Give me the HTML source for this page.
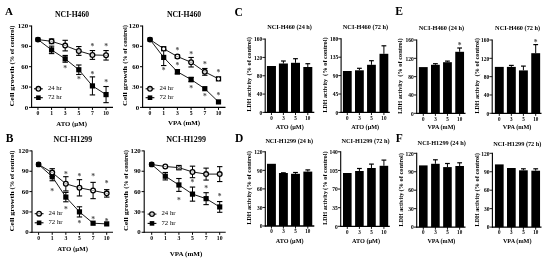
<!DOCTYPE html>
<html><head><meta charset="utf-8"><title>Figure</title>
<style>
html,body{margin:0;padding:0;background:#fff;}
body{width:550px;height:262px;overflow:hidden;}
svg{display:block;}
text{font-family:'Liberation Serif', 'DejaVu Serif', serif;}
</style></head><body>
<svg width="550" height="262" viewBox="0 0 550 262">
<rect width="550" height="262" fill="#fff"/>
<text x="5.00" y="15.30" font-size="11" font-weight="bold" text-anchor="start" fill="#000" >A</text>
<text x="5.70" y="141.70" font-size="11.5" font-weight="bold" text-anchor="start" fill="#000" >B</text>
<text x="234.60" y="15.60" font-size="11.6" font-weight="bold" text-anchor="start" fill="#000" >C</text>
<text x="234.90" y="141.70" font-size="11.5" font-weight="bold" text-anchor="start" fill="#000" >D</text>
<text x="395.20" y="15.10" font-size="11.6" font-weight="bold" text-anchor="start" fill="#000" >E</text>
<text x="395.80" y="142.00" font-size="11.5" font-weight="bold" text-anchor="start" fill="#000" >F</text>
<line x1="31.60" y1="25.50" x2="31.60" y2="107.90" stroke="#000" stroke-width="1.1"/>
<line x1="31.10" y1="107.40" x2="113.00" y2="107.40" stroke="#000" stroke-width="1.1"/>
<line x1="29.00" y1="107.40" x2="31.60" y2="107.40" stroke="#000" stroke-width="1"/>
<text x="28.20" y="109.50" font-size="6.3" font-weight="bold" text-anchor="end" fill="#000" textLength="3.45" lengthAdjust="spacingAndGlyphs" >0</text>
<line x1="29.00" y1="87.05" x2="31.60" y2="87.05" stroke="#000" stroke-width="1"/>
<text x="28.20" y="89.15" font-size="6.3" font-weight="bold" text-anchor="end" fill="#000" textLength="6.9" lengthAdjust="spacingAndGlyphs" >30</text>
<line x1="29.00" y1="66.70" x2="31.60" y2="66.70" stroke="#000" stroke-width="1"/>
<text x="28.20" y="68.80" font-size="6.3" font-weight="bold" text-anchor="end" fill="#000" textLength="6.9" lengthAdjust="spacingAndGlyphs" >60</text>
<line x1="29.00" y1="46.35" x2="31.60" y2="46.35" stroke="#000" stroke-width="1"/>
<text x="28.20" y="48.45" font-size="6.3" font-weight="bold" text-anchor="end" fill="#000" textLength="6.9" lengthAdjust="spacingAndGlyphs" >90</text>
<line x1="29.00" y1="26.00" x2="31.60" y2="26.00" stroke="#000" stroke-width="1"/>
<text x="28.20" y="28.10" font-size="6.3" font-weight="bold" text-anchor="end" fill="#000" textLength="10.350000000000001" lengthAdjust="spacingAndGlyphs" >120</text>
<line x1="37.95" y1="107.40" x2="37.95" y2="109.90" stroke="#000" stroke-width="1"/>
<text x="37.95" y="115.30" font-size="5.7" font-weight="bold" text-anchor="middle" fill="#000" >0</text>
<line x1="51.57" y1="107.40" x2="51.57" y2="109.90" stroke="#000" stroke-width="1"/>
<text x="51.57" y="115.30" font-size="5.7" font-weight="bold" text-anchor="middle" fill="#000" >1</text>
<line x1="65.19" y1="107.40" x2="65.19" y2="109.90" stroke="#000" stroke-width="1"/>
<text x="65.19" y="115.30" font-size="5.7" font-weight="bold" text-anchor="middle" fill="#000" >3</text>
<line x1="78.81" y1="107.40" x2="78.81" y2="109.90" stroke="#000" stroke-width="1"/>
<text x="78.81" y="115.30" font-size="5.7" font-weight="bold" text-anchor="middle" fill="#000" >5</text>
<line x1="92.43" y1="107.40" x2="92.43" y2="109.90" stroke="#000" stroke-width="1"/>
<text x="92.43" y="115.30" font-size="5.7" font-weight="bold" text-anchor="middle" fill="#000" >7</text>
<line x1="106.05" y1="107.40" x2="106.05" y2="109.90" stroke="#000" stroke-width="1"/>
<text x="106.05" y="115.30" font-size="5.7" font-weight="bold" text-anchor="middle" fill="#000" >10</text>
<text x="55.10" y="16.60" font-size="7.8" font-weight="bold" text-anchor="start" fill="#000" textLength="34.0" lengthAdjust="spacingAndGlyphs" >NCI-H460</text>
<text x="56.30" y="126.00" font-size="7.0" font-weight="bold" text-anchor="start" fill="#000" textLength="30.6" lengthAdjust="spacingAndGlyphs" >ATO (µM)</text>
<text x="0" y="0" font-size="6.8" font-weight="bold" text-anchor="start" textLength="40.0" lengthAdjust="spacingAndGlyphs" transform="translate(11.80,106.40) rotate(-90)" dominant-baseline="central">Cell growth</text>
<text x="0" y="0" font-size="6.8" font-weight="bold" text-anchor="end" textLength="38.7" lengthAdjust="spacingAndGlyphs" transform="translate(11.80,25.70) rotate(-90)" dominant-baseline="central">(% of control)</text>
<polyline fill="none" stroke="#000" stroke-width="0.9" points="37.95,39.57 51.57,41.33 65.19,45.60 78.81,50.96 92.43,54.96 106.05,55.30"/>
<polyline fill="none" stroke="#000" stroke-width="0.9" points="37.95,39.57 51.57,49.88 65.19,58.83 78.81,69.75 92.43,85.90 106.05,94.58"/>
<line x1="51.57" y1="38.96" x2="51.57" y2="43.70" stroke="#000" stroke-width="1"/>
<line x1="48.87" y1="38.96" x2="54.27" y2="38.96" stroke="#000" stroke-width="1.1"/>
<line x1="48.87" y1="43.70" x2="54.27" y2="43.70" stroke="#000" stroke-width="1.1"/>
<line x1="65.19" y1="40.31" x2="65.19" y2="50.89" stroke="#000" stroke-width="1"/>
<line x1="62.49" y1="40.31" x2="67.89" y2="40.31" stroke="#000" stroke-width="1.1"/>
<line x1="62.49" y1="50.89" x2="67.89" y2="50.89" stroke="#000" stroke-width="1.1"/>
<line x1="78.81" y1="46.55" x2="78.81" y2="55.37" stroke="#000" stroke-width="1"/>
<line x1="76.11" y1="46.55" x2="81.51" y2="46.55" stroke="#000" stroke-width="1.1"/>
<line x1="76.11" y1="55.37" x2="81.51" y2="55.37" stroke="#000" stroke-width="1.1"/>
<line x1="92.43" y1="50.56" x2="92.43" y2="59.37" stroke="#000" stroke-width="1"/>
<line x1="89.73" y1="50.56" x2="95.13" y2="50.56" stroke="#000" stroke-width="1.1"/>
<line x1="89.73" y1="59.37" x2="95.13" y2="59.37" stroke="#000" stroke-width="1.1"/>
<line x1="106.05" y1="50.56" x2="106.05" y2="60.05" stroke="#000" stroke-width="1"/>
<line x1="103.35" y1="50.56" x2="108.75" y2="50.56" stroke="#000" stroke-width="1.1"/>
<line x1="103.35" y1="60.05" x2="108.75" y2="60.05" stroke="#000" stroke-width="1.1"/>
<line x1="51.57" y1="46.15" x2="51.57" y2="53.61" stroke="#000" stroke-width="1"/>
<line x1="48.87" y1="46.15" x2="54.27" y2="46.15" stroke="#000" stroke-width="1.1"/>
<line x1="48.87" y1="53.61" x2="54.27" y2="53.61" stroke="#000" stroke-width="1.1"/>
<line x1="65.19" y1="55.44" x2="65.19" y2="62.22" stroke="#000" stroke-width="1"/>
<line x1="62.49" y1="55.44" x2="67.89" y2="55.44" stroke="#000" stroke-width="1.1"/>
<line x1="62.49" y1="62.22" x2="67.89" y2="62.22" stroke="#000" stroke-width="1.1"/>
<line x1="78.81" y1="65.00" x2="78.81" y2="74.50" stroke="#000" stroke-width="1"/>
<line x1="76.11" y1="65.00" x2="81.51" y2="65.00" stroke="#000" stroke-width="1.1"/>
<line x1="76.11" y1="74.50" x2="81.51" y2="74.50" stroke="#000" stroke-width="1.1"/>
<line x1="92.43" y1="76.88" x2="92.43" y2="94.92" stroke="#000" stroke-width="1"/>
<line x1="89.73" y1="76.88" x2="95.13" y2="76.88" stroke="#000" stroke-width="1.1"/>
<line x1="89.73" y1="94.92" x2="95.13" y2="94.92" stroke="#000" stroke-width="1.1"/>
<line x1="106.05" y1="86.51" x2="106.05" y2="102.65" stroke="#000" stroke-width="1"/>
<line x1="103.35" y1="86.51" x2="108.75" y2="86.51" stroke="#000" stroke-width="1.1"/>
<line x1="103.35" y1="102.65" x2="108.75" y2="102.65" stroke="#000" stroke-width="1.1"/>
<rect x="48.97" y="47.28" width="5.20" height="5.20" fill="#000"/>
<rect x="62.59" y="56.23" width="5.20" height="5.20" fill="#000"/>
<rect x="76.21" y="67.15" width="5.20" height="5.20" fill="#000"/>
<rect x="89.83" y="83.30" width="5.20" height="5.20" fill="#000"/>
<rect x="103.45" y="91.98" width="5.20" height="5.20" fill="#000"/>
<rect x="35.55" y="37.17" width="4.80" height="4.80" fill="#000"/>
<circle cx="37.95" cy="39.57" r="2.85" fill="#000" stroke="#000" stroke-width="0"/>
<circle cx="51.57" cy="41.33" r="2.35" fill="#fff" stroke="#000" stroke-width="1.3"/>
<line x1="50.37" y1="41.33" x2="52.77" y2="41.33" stroke="#444" stroke-width="0.5"/>
<circle cx="65.19" cy="45.60" r="2.35" fill="#fff" stroke="#000" stroke-width="1.3"/>
<line x1="63.99" y1="45.60" x2="66.39" y2="45.60" stroke="#444" stroke-width="0.5"/>
<circle cx="78.81" cy="50.96" r="2.35" fill="#fff" stroke="#000" stroke-width="1.3"/>
<line x1="77.61" y1="50.96" x2="80.01" y2="50.96" stroke="#444" stroke-width="0.5"/>
<circle cx="92.43" cy="54.96" r="2.35" fill="#fff" stroke="#000" stroke-width="1.3"/>
<line x1="91.23" y1="54.96" x2="93.63" y2="54.96" stroke="#444" stroke-width="0.5"/>
<circle cx="106.05" cy="55.30" r="2.35" fill="#fff" stroke="#000" stroke-width="1.3"/>
<line x1="104.85" y1="55.30" x2="107.25" y2="55.30" stroke="#444" stroke-width="0.5"/>
<text x="92.43" y="49.38" font-size="7.6" font-weight="bold" text-anchor="middle" fill="#4a4a4a" >*</text>
<text x="106.05" y="49.22" font-size="7.6" font-weight="bold" text-anchor="middle" fill="#4a4a4a" >*</text>
<text x="65.19" y="70.54" font-size="7.6" font-weight="bold" text-anchor="middle" fill="#4a4a4a" >*</text>
<text x="78.81" y="81.96" font-size="7.6" font-weight="bold" text-anchor="middle" fill="#4a4a4a" >*</text>
<text x="92.43" y="77.21" font-size="7.6" font-weight="bold" text-anchor="middle" fill="#4a4a4a" >*</text>
<text x="106.05" y="84.69" font-size="7.6" font-weight="bold" text-anchor="middle" fill="#4a4a4a" >*</text>
<line x1="34.00" y1="88.80" x2="42.80" y2="88.80" stroke="#000" stroke-width="1.1"/>
<circle cx="38.40" cy="88.80" r="2.3" fill="#fff" stroke="#000" stroke-width="1.3"/>
<line x1="37.20" y1="88.80" x2="39.60" y2="88.80" stroke="#444" stroke-width="0.5"/>
<text x="47.90" y="90.05" font-size="7.0" font-weight="normal" text-anchor="start" fill="#000" textLength="14.0" lengthAdjust="spacingAndGlyphs" >24 hr</text>
<line x1="34.00" y1="97.70" x2="42.80" y2="97.70" stroke="#000" stroke-width="1.1"/>
<rect x="36.10" y="95.40" width="4.60" height="4.60" fill="#000"/>
<text x="47.90" y="98.95" font-size="7.0" font-weight="normal" text-anchor="start" fill="#000" textLength="14.0" lengthAdjust="spacingAndGlyphs" >72 hr</text>
<line x1="142.60" y1="25.50" x2="142.60" y2="107.90" stroke="#000" stroke-width="1.1"/>
<line x1="142.10" y1="107.40" x2="225.50" y2="107.40" stroke="#000" stroke-width="1.1"/>
<line x1="140.00" y1="107.40" x2="142.60" y2="107.40" stroke="#000" stroke-width="1"/>
<text x="139.20" y="109.50" font-size="6.3" font-weight="bold" text-anchor="end" fill="#000" textLength="3.45" lengthAdjust="spacingAndGlyphs" >0</text>
<line x1="140.00" y1="87.05" x2="142.60" y2="87.05" stroke="#000" stroke-width="1"/>
<text x="139.20" y="89.15" font-size="6.3" font-weight="bold" text-anchor="end" fill="#000" textLength="6.9" lengthAdjust="spacingAndGlyphs" >30</text>
<line x1="140.00" y1="66.70" x2="142.60" y2="66.70" stroke="#000" stroke-width="1"/>
<text x="139.20" y="68.80" font-size="6.3" font-weight="bold" text-anchor="end" fill="#000" textLength="6.9" lengthAdjust="spacingAndGlyphs" >60</text>
<line x1="140.00" y1="46.35" x2="142.60" y2="46.35" stroke="#000" stroke-width="1"/>
<text x="139.20" y="48.45" font-size="6.3" font-weight="bold" text-anchor="end" fill="#000" textLength="6.9" lengthAdjust="spacingAndGlyphs" >90</text>
<line x1="140.00" y1="26.00" x2="142.60" y2="26.00" stroke="#000" stroke-width="1"/>
<text x="139.20" y="28.10" font-size="6.3" font-weight="bold" text-anchor="end" fill="#000" textLength="10.350000000000001" lengthAdjust="spacingAndGlyphs" >120</text>
<line x1="150.00" y1="107.40" x2="150.00" y2="109.90" stroke="#000" stroke-width="1"/>
<text x="150.00" y="115.30" font-size="5.7" font-weight="bold" text-anchor="middle" fill="#000" >0</text>
<line x1="163.70" y1="107.40" x2="163.70" y2="109.90" stroke="#000" stroke-width="1"/>
<text x="163.70" y="115.30" font-size="5.7" font-weight="bold" text-anchor="middle" fill="#000" >1</text>
<line x1="177.40" y1="107.40" x2="177.40" y2="109.90" stroke="#000" stroke-width="1"/>
<text x="177.40" y="115.30" font-size="5.7" font-weight="bold" text-anchor="middle" fill="#000" >3</text>
<line x1="191.10" y1="107.40" x2="191.10" y2="109.90" stroke="#000" stroke-width="1"/>
<text x="191.10" y="115.30" font-size="5.7" font-weight="bold" text-anchor="middle" fill="#000" >5</text>
<line x1="204.80" y1="107.40" x2="204.80" y2="109.90" stroke="#000" stroke-width="1"/>
<text x="204.80" y="115.30" font-size="5.7" font-weight="bold" text-anchor="middle" fill="#000" >7</text>
<line x1="218.50" y1="107.40" x2="218.50" y2="109.90" stroke="#000" stroke-width="1"/>
<text x="218.50" y="115.30" font-size="5.7" font-weight="bold" text-anchor="middle" fill="#000" >10</text>
<text x="166.90" y="16.70" font-size="7.8" font-weight="bold" text-anchor="start" fill="#000" textLength="34.3" lengthAdjust="spacingAndGlyphs" >NCI-H460</text>
<text x="168.00" y="125.10" font-size="7.0" font-weight="bold" text-anchor="start" fill="#000" textLength="32.2" lengthAdjust="spacingAndGlyphs" >VPA (mM)</text>
<text x="0" y="0" font-size="6.8" font-weight="bold" text-anchor="start" textLength="40.0" lengthAdjust="spacingAndGlyphs" transform="translate(124.10,106.00) rotate(-90)" dominant-baseline="central">Cell growth</text>
<text x="0" y="0" font-size="6.8" font-weight="bold" text-anchor="end" textLength="38.7" lengthAdjust="spacingAndGlyphs" transform="translate(124.10,25.10) rotate(-90)" dominant-baseline="central">(% of control)</text>
<polyline fill="none" stroke="#000" stroke-width="0.9" points="150.00,39.57 163.70,48.72 177.40,56.53 191.10,62.22 204.80,71.86 218.50,78.84"/>
<polyline fill="none" stroke="#000" stroke-width="0.9" points="150.00,39.57 163.70,57.41 177.40,71.79 191.10,79.52 204.80,88.68 218.50,101.91"/>
<line x1="177.40" y1="54.83" x2="177.40" y2="58.22" stroke="#000" stroke-width="1"/>
<line x1="174.70" y1="54.83" x2="180.10" y2="54.83" stroke="#000" stroke-width="1.1"/>
<line x1="174.70" y1="58.22" x2="180.10" y2="58.22" stroke="#000" stroke-width="1.1"/>
<line x1="191.10" y1="57.47" x2="191.10" y2="66.97" stroke="#000" stroke-width="1"/>
<line x1="188.40" y1="57.47" x2="193.80" y2="57.47" stroke="#000" stroke-width="1.1"/>
<line x1="188.40" y1="66.97" x2="193.80" y2="66.97" stroke="#000" stroke-width="1.1"/>
<line x1="204.80" y1="68.46" x2="204.80" y2="75.25" stroke="#000" stroke-width="1"/>
<line x1="202.10" y1="68.46" x2="207.50" y2="68.46" stroke="#000" stroke-width="1.1"/>
<line x1="202.10" y1="75.25" x2="207.50" y2="75.25" stroke="#000" stroke-width="1.1"/>
<line x1="163.70" y1="49.27" x2="163.70" y2="65.55" stroke="#000" stroke-width="1"/>
<line x1="161.00" y1="49.27" x2="166.40" y2="49.27" stroke="#000" stroke-width="1.1"/>
<line x1="161.00" y1="65.55" x2="166.40" y2="65.55" stroke="#000" stroke-width="1.1"/>
<line x1="177.40" y1="69.62" x2="177.40" y2="73.96" stroke="#000" stroke-width="1"/>
<line x1="174.70" y1="69.62" x2="180.10" y2="69.62" stroke="#000" stroke-width="1.1"/>
<line x1="174.70" y1="73.96" x2="180.10" y2="73.96" stroke="#000" stroke-width="1.1"/>
<line x1="191.10" y1="77.35" x2="191.10" y2="81.69" stroke="#000" stroke-width="1"/>
<line x1="188.40" y1="77.35" x2="193.80" y2="77.35" stroke="#000" stroke-width="1.1"/>
<line x1="188.40" y1="81.69" x2="193.80" y2="81.69" stroke="#000" stroke-width="1.1"/>
<rect x="161.10" y="54.81" width="5.20" height="5.20" fill="#000"/>
<rect x="174.80" y="69.19" width="5.20" height="5.20" fill="#000"/>
<rect x="188.50" y="76.92" width="5.20" height="5.20" fill="#000"/>
<rect x="202.20" y="86.08" width="5.20" height="5.20" fill="#000"/>
<rect x="215.90" y="99.31" width="5.20" height="5.20" fill="#000"/>
<rect x="147.60" y="37.17" width="4.80" height="4.80" fill="#000"/>
<circle cx="150.00" cy="39.57" r="2.85" fill="#000" stroke="#000" stroke-width="0"/>
<rect x="161.05" y="46.07" width="5.3" height="5.3" fill="#000"/>
<circle cx="163.70" cy="48.72" r="1.55" fill="#fff"/>
<circle cx="177.40" cy="56.53" r="2.35" fill="#fff" stroke="#000" stroke-width="1.3"/>
<line x1="176.20" y1="56.53" x2="178.60" y2="56.53" stroke="#444" stroke-width="0.5"/>
<circle cx="191.10" cy="62.22" r="2.35" fill="#fff" stroke="#000" stroke-width="1.3"/>
<line x1="189.90" y1="62.22" x2="192.30" y2="62.22" stroke="#444" stroke-width="0.5"/>
<circle cx="204.80" cy="71.86" r="2.35" fill="#fff" stroke="#000" stroke-width="1.3"/>
<line x1="203.60" y1="71.86" x2="206.00" y2="71.86" stroke="#444" stroke-width="0.5"/>
<rect x="215.85" y="76.19" width="5.3" height="5.3" fill="#000"/>
<circle cx="218.50" cy="78.84" r="1.55" fill="#fff"/>
<text x="177.40" y="52.94" font-size="7.6" font-weight="bold" text-anchor="middle" fill="#4a4a4a" >*</text>
<text x="191.10" y="57.14" font-size="7.6" font-weight="bold" text-anchor="middle" fill="#4a4a4a" >*</text>
<text x="204.80" y="66.77" font-size="7.6" font-weight="bold" text-anchor="middle" fill="#4a4a4a" >*</text>
<text x="218.50" y="75.25" font-size="7.6" font-weight="bold" text-anchor="middle" fill="#4a4a4a" >*</text>
<text x="163.70" y="72.62" font-size="7.6" font-weight="bold" text-anchor="middle" fill="#4a4a4a" >*</text>
<text x="177.40" y="68.20" font-size="7.6" font-weight="bold" text-anchor="middle" fill="#4a4a4a" >*</text>
<text x="191.10" y="91.13" font-size="7.6" font-weight="bold" text-anchor="middle" fill="#4a4a4a" >*</text>
<text x="204.80" y="99.09" font-size="7.6" font-weight="bold" text-anchor="middle" fill="#4a4a4a" >*</text>
<text x="218.50" y="98.32" font-size="7.6" font-weight="bold" text-anchor="middle" fill="#4a4a4a" >*</text>
<line x1="145.60" y1="88.80" x2="154.40" y2="88.80" stroke="#000" stroke-width="1.1"/>
<circle cx="150.00" cy="88.80" r="2.3" fill="#fff" stroke="#000" stroke-width="1.3"/>
<line x1="148.80" y1="88.80" x2="151.20" y2="88.80" stroke="#444" stroke-width="0.5"/>
<text x="159.40" y="90.05" font-size="7.0" font-weight="normal" text-anchor="start" fill="#000" textLength="14.0" lengthAdjust="spacingAndGlyphs" >24 hr</text>
<line x1="145.60" y1="97.70" x2="154.40" y2="97.70" stroke="#000" stroke-width="1.1"/>
<rect x="147.70" y="95.40" width="4.60" height="4.60" fill="#000"/>
<text x="159.40" y="98.95" font-size="7.0" font-weight="normal" text-anchor="start" fill="#000" textLength="14.0" lengthAdjust="spacingAndGlyphs" >72 hr</text>
<line x1="32.00" y1="150.40" x2="32.00" y2="232.80" stroke="#000" stroke-width="1.1"/>
<line x1="31.50" y1="232.30" x2="113.00" y2="232.30" stroke="#000" stroke-width="1.1"/>
<line x1="29.40" y1="232.30" x2="32.00" y2="232.30" stroke="#000" stroke-width="1"/>
<text x="28.60" y="234.40" font-size="6.3" font-weight="bold" text-anchor="end" fill="#000" textLength="3.45" lengthAdjust="spacingAndGlyphs" >0</text>
<line x1="29.40" y1="211.95" x2="32.00" y2="211.95" stroke="#000" stroke-width="1"/>
<text x="28.60" y="214.05" font-size="6.3" font-weight="bold" text-anchor="end" fill="#000" textLength="6.9" lengthAdjust="spacingAndGlyphs" >30</text>
<line x1="29.40" y1="191.60" x2="32.00" y2="191.60" stroke="#000" stroke-width="1"/>
<text x="28.60" y="193.70" font-size="6.3" font-weight="bold" text-anchor="end" fill="#000" textLength="6.9" lengthAdjust="spacingAndGlyphs" >60</text>
<line x1="29.40" y1="171.25" x2="32.00" y2="171.25" stroke="#000" stroke-width="1"/>
<text x="28.60" y="173.35" font-size="6.3" font-weight="bold" text-anchor="end" fill="#000" textLength="6.9" lengthAdjust="spacingAndGlyphs" >90</text>
<line x1="29.40" y1="150.90" x2="32.00" y2="150.90" stroke="#000" stroke-width="1"/>
<text x="28.60" y="153.00" font-size="6.3" font-weight="bold" text-anchor="end" fill="#000" textLength="10.350000000000001" lengthAdjust="spacingAndGlyphs" >120</text>
<line x1="38.60" y1="232.30" x2="38.60" y2="234.80" stroke="#000" stroke-width="1"/>
<text x="38.60" y="240.20" font-size="5.7" font-weight="bold" text-anchor="middle" fill="#000" >0</text>
<line x1="52.22" y1="232.30" x2="52.22" y2="234.80" stroke="#000" stroke-width="1"/>
<text x="52.22" y="240.20" font-size="5.7" font-weight="bold" text-anchor="middle" fill="#000" >1</text>
<line x1="65.84" y1="232.30" x2="65.84" y2="234.80" stroke="#000" stroke-width="1"/>
<text x="65.84" y="240.20" font-size="5.7" font-weight="bold" text-anchor="middle" fill="#000" >3</text>
<line x1="79.46" y1="232.30" x2="79.46" y2="234.80" stroke="#000" stroke-width="1"/>
<text x="79.46" y="240.20" font-size="5.7" font-weight="bold" text-anchor="middle" fill="#000" >5</text>
<line x1="93.08" y1="232.30" x2="93.08" y2="234.80" stroke="#000" stroke-width="1"/>
<text x="93.08" y="240.20" font-size="5.7" font-weight="bold" text-anchor="middle" fill="#000" >7</text>
<line x1="106.70" y1="232.30" x2="106.70" y2="234.80" stroke="#000" stroke-width="1"/>
<text x="106.70" y="240.20" font-size="5.7" font-weight="bold" text-anchor="middle" fill="#000" >10</text>
<text x="53.50" y="141.50" font-size="7.8" font-weight="bold" text-anchor="start" fill="#000" textLength="38.7" lengthAdjust="spacingAndGlyphs" >NCI-H1299</text>
<text x="57.20" y="251.40" font-size="7.0" font-weight="bold" text-anchor="start" fill="#000" textLength="30.8" lengthAdjust="spacingAndGlyphs" >ATO (µM)</text>
<text x="0" y="0" font-size="6.8" font-weight="bold" text-anchor="start" textLength="40.0" lengthAdjust="spacingAndGlyphs" transform="translate(11.80,231.40) rotate(-90)" dominant-baseline="central">Cell growth</text>
<text x="0" y="0" font-size="6.8" font-weight="bold" text-anchor="end" textLength="38.7" lengthAdjust="spacingAndGlyphs" transform="translate(11.80,150.70) rotate(-90)" dominant-baseline="central">(% of control)</text>
<polyline fill="none" stroke="#000" stroke-width="0.9" points="38.60,164.47 52.22,172.61 65.84,183.80 79.46,187.80 93.08,190.51 106.70,193.36"/>
<polyline fill="none" stroke="#000" stroke-width="0.9" points="38.60,164.47 52.22,176.68 65.84,197.09 79.46,211.88 93.08,223.21 106.70,223.89"/>
<line x1="52.22" y1="168.67" x2="52.22" y2="176.54" stroke="#000" stroke-width="1"/>
<line x1="49.52" y1="168.67" x2="54.92" y2="168.67" stroke="#000" stroke-width="1.1"/>
<line x1="49.52" y1="176.54" x2="54.92" y2="176.54" stroke="#000" stroke-width="1.1"/>
<line x1="65.84" y1="176.68" x2="65.84" y2="190.92" stroke="#000" stroke-width="1"/>
<line x1="63.14" y1="176.68" x2="68.54" y2="176.68" stroke="#000" stroke-width="1.1"/>
<line x1="63.14" y1="190.92" x2="68.54" y2="190.92" stroke="#000" stroke-width="1.1"/>
<line x1="79.46" y1="179.66" x2="79.46" y2="195.94" stroke="#000" stroke-width="1"/>
<line x1="76.76" y1="179.66" x2="82.16" y2="179.66" stroke="#000" stroke-width="1.1"/>
<line x1="76.76" y1="195.94" x2="82.16" y2="195.94" stroke="#000" stroke-width="1.1"/>
<line x1="93.08" y1="182.37" x2="93.08" y2="198.65" stroke="#000" stroke-width="1"/>
<line x1="90.38" y1="182.37" x2="95.78" y2="182.37" stroke="#000" stroke-width="1.1"/>
<line x1="90.38" y1="198.65" x2="95.78" y2="198.65" stroke="#000" stroke-width="1.1"/>
<line x1="106.70" y1="189.63" x2="106.70" y2="197.09" stroke="#000" stroke-width="1"/>
<line x1="104.00" y1="189.63" x2="109.40" y2="189.63" stroke="#000" stroke-width="1.1"/>
<line x1="104.00" y1="197.09" x2="109.40" y2="197.09" stroke="#000" stroke-width="1.1"/>
<line x1="52.22" y1="172.61" x2="52.22" y2="180.75" stroke="#000" stroke-width="1"/>
<line x1="49.52" y1="172.61" x2="54.92" y2="172.61" stroke="#000" stroke-width="1.1"/>
<line x1="49.52" y1="180.75" x2="54.92" y2="180.75" stroke="#000" stroke-width="1.1"/>
<line x1="65.84" y1="192.41" x2="65.84" y2="201.78" stroke="#000" stroke-width="1"/>
<line x1="63.14" y1="192.41" x2="68.54" y2="192.41" stroke="#000" stroke-width="1.1"/>
<line x1="63.14" y1="201.78" x2="68.54" y2="201.78" stroke="#000" stroke-width="1.1"/>
<line x1="79.46" y1="206.79" x2="79.46" y2="216.97" stroke="#000" stroke-width="1"/>
<line x1="76.76" y1="206.79" x2="82.16" y2="206.79" stroke="#000" stroke-width="1.1"/>
<line x1="76.76" y1="216.97" x2="82.16" y2="216.97" stroke="#000" stroke-width="1.1"/>
<rect x="49.62" y="174.08" width="5.20" height="5.20" fill="#000"/>
<rect x="63.24" y="194.49" width="5.20" height="5.20" fill="#000"/>
<rect x="76.86" y="209.28" width="5.20" height="5.20" fill="#000"/>
<rect x="90.48" y="220.61" width="5.20" height="5.20" fill="#000"/>
<rect x="104.10" y="221.29" width="5.20" height="5.20" fill="#000"/>
<rect x="36.20" y="162.07" width="4.80" height="4.80" fill="#000"/>
<circle cx="38.60" cy="164.47" r="2.85" fill="#000" stroke="#000" stroke-width="0"/>
<circle cx="52.22" cy="172.61" r="2.35" fill="#fff" stroke="#000" stroke-width="1.3"/>
<line x1="51.02" y1="172.61" x2="53.42" y2="172.61" stroke="#444" stroke-width="0.5"/>
<circle cx="65.84" cy="183.80" r="2.35" fill="#fff" stroke="#000" stroke-width="1.3"/>
<line x1="64.64" y1="183.80" x2="67.04" y2="183.80" stroke="#444" stroke-width="0.5"/>
<circle cx="79.46" cy="187.80" r="2.35" fill="#fff" stroke="#000" stroke-width="1.3"/>
<line x1="78.26" y1="187.80" x2="80.66" y2="187.80" stroke="#444" stroke-width="0.5"/>
<circle cx="93.08" cy="190.51" r="2.35" fill="#fff" stroke="#000" stroke-width="1.3"/>
<line x1="91.88" y1="190.51" x2="94.28" y2="190.51" stroke="#444" stroke-width="0.5"/>
<circle cx="106.70" cy="193.36" r="2.35" fill="#fff" stroke="#000" stroke-width="1.3"/>
<line x1="105.50" y1="193.36" x2="107.90" y2="193.36" stroke="#444" stroke-width="0.5"/>
<text x="65.84" y="177.01" font-size="7.6" font-weight="bold" text-anchor="middle" fill="#4a4a4a" >*</text>
<text x="79.46" y="178.81" font-size="7.6" font-weight="bold" text-anchor="middle" fill="#4a4a4a" >*</text>
<text x="93.08" y="179.03" font-size="7.6" font-weight="bold" text-anchor="middle" fill="#4a4a4a" >*</text>
<text x="106.70" y="185.88" font-size="7.6" font-weight="bold" text-anchor="middle" fill="#4a4a4a" >*</text>
<text x="52.22" y="194.19" font-size="7.6" font-weight="bold" text-anchor="middle" fill="#4a4a4a" >*</text>
<text x="65.84" y="211.81" font-size="7.6" font-weight="bold" text-anchor="middle" fill="#4a4a4a" >*</text>
<text x="79.46" y="226.39" font-size="7.6" font-weight="bold" text-anchor="middle" fill="#4a4a4a" >*</text>
<text x="93.08" y="222.12" font-size="7.6" font-weight="bold" text-anchor="middle" fill="#4a4a4a" >*</text>
<text x="106.70" y="223.70" font-size="7.6" font-weight="bold" text-anchor="middle" fill="#4a4a4a" >*</text>
<line x1="34.70" y1="213.70" x2="43.50" y2="213.70" stroke="#000" stroke-width="1.1"/>
<circle cx="39.10" cy="213.70" r="2.3" fill="#fff" stroke="#000" stroke-width="1.3"/>
<line x1="37.90" y1="213.70" x2="40.30" y2="213.70" stroke="#444" stroke-width="0.5"/>
<text x="48.50" y="214.95" font-size="7.0" font-weight="normal" text-anchor="start" fill="#000" textLength="14.0" lengthAdjust="spacingAndGlyphs" >24 hr</text>
<line x1="34.70" y1="222.80" x2="43.50" y2="222.80" stroke="#000" stroke-width="1.1"/>
<rect x="36.80" y="220.50" width="4.60" height="4.60" fill="#000"/>
<text x="48.50" y="224.05" font-size="7.0" font-weight="normal" text-anchor="start" fill="#000" textLength="14.0" lengthAdjust="spacingAndGlyphs" >72 hr</text>
<line x1="144.20" y1="150.40" x2="144.20" y2="232.80" stroke="#000" stroke-width="1.1"/>
<line x1="143.70" y1="232.30" x2="225.70" y2="232.30" stroke="#000" stroke-width="1.1"/>
<line x1="141.60" y1="232.30" x2="144.20" y2="232.30" stroke="#000" stroke-width="1"/>
<text x="140.80" y="234.40" font-size="6.3" font-weight="bold" text-anchor="end" fill="#000" textLength="3.45" lengthAdjust="spacingAndGlyphs" >0</text>
<line x1="141.60" y1="211.95" x2="144.20" y2="211.95" stroke="#000" stroke-width="1"/>
<text x="140.80" y="214.05" font-size="6.3" font-weight="bold" text-anchor="end" fill="#000" textLength="6.9" lengthAdjust="spacingAndGlyphs" >30</text>
<line x1="141.60" y1="191.60" x2="144.20" y2="191.60" stroke="#000" stroke-width="1"/>
<text x="140.80" y="193.70" font-size="6.3" font-weight="bold" text-anchor="end" fill="#000" textLength="6.9" lengthAdjust="spacingAndGlyphs" >60</text>
<line x1="141.60" y1="171.25" x2="144.20" y2="171.25" stroke="#000" stroke-width="1"/>
<text x="140.80" y="173.35" font-size="6.3" font-weight="bold" text-anchor="end" fill="#000" textLength="6.9" lengthAdjust="spacingAndGlyphs" >90</text>
<line x1="141.60" y1="150.90" x2="144.20" y2="150.90" stroke="#000" stroke-width="1"/>
<text x="140.80" y="153.00" font-size="6.3" font-weight="bold" text-anchor="end" fill="#000" textLength="10.350000000000001" lengthAdjust="spacingAndGlyphs" >120</text>
<line x1="151.70" y1="232.30" x2="151.70" y2="234.80" stroke="#000" stroke-width="1"/>
<text x="151.70" y="240.20" font-size="5.7" font-weight="bold" text-anchor="middle" fill="#000" >0</text>
<line x1="165.30" y1="232.30" x2="165.30" y2="234.80" stroke="#000" stroke-width="1"/>
<text x="165.30" y="240.20" font-size="5.7" font-weight="bold" text-anchor="middle" fill="#000" >1</text>
<line x1="178.90" y1="232.30" x2="178.90" y2="234.80" stroke="#000" stroke-width="1"/>
<text x="178.90" y="240.20" font-size="5.7" font-weight="bold" text-anchor="middle" fill="#000" >3</text>
<line x1="192.50" y1="232.30" x2="192.50" y2="234.80" stroke="#000" stroke-width="1"/>
<text x="192.50" y="240.20" font-size="5.7" font-weight="bold" text-anchor="middle" fill="#000" >5</text>
<line x1="206.10" y1="232.30" x2="206.10" y2="234.80" stroke="#000" stroke-width="1"/>
<text x="206.10" y="240.20" font-size="5.7" font-weight="bold" text-anchor="middle" fill="#000" >7</text>
<line x1="219.70" y1="232.30" x2="219.70" y2="234.80" stroke="#000" stroke-width="1"/>
<text x="219.70" y="240.20" font-size="5.7" font-weight="bold" text-anchor="middle" fill="#000" >10</text>
<text x="166.30" y="141.50" font-size="7.8" font-weight="bold" text-anchor="start" fill="#000" textLength="39.6" lengthAdjust="spacingAndGlyphs" >NCI-H1299</text>
<text x="169.70" y="256.30" font-size="7.0" font-weight="bold" text-anchor="start" fill="#000" textLength="32.6" lengthAdjust="spacingAndGlyphs" >VPA (mM)</text>
<text x="0" y="0" font-size="6.8" font-weight="bold" text-anchor="start" textLength="40.0" lengthAdjust="spacingAndGlyphs" transform="translate(125.50,231.00) rotate(-90)" dominant-baseline="central">Cell growth</text>
<text x="0" y="0" font-size="6.8" font-weight="bold" text-anchor="end" textLength="38.7" lengthAdjust="spacingAndGlyphs" transform="translate(125.50,150.10) rotate(-90)" dominant-baseline="central">(% of control)</text>
<polyline fill="none" stroke="#000" stroke-width="0.9" points="151.70,164.47 165.30,166.50 178.90,167.65 192.50,171.93 206.10,174.10 219.70,174.10"/>
<polyline fill="none" stroke="#000" stroke-width="0.9" points="151.70,164.47 165.30,176.20 178.90,184.95 192.50,194.11 206.10,198.65 219.70,206.93"/>
<line x1="192.50" y1="166.16" x2="192.50" y2="177.69" stroke="#000" stroke-width="1"/>
<line x1="189.80" y1="166.16" x2="195.20" y2="166.16" stroke="#000" stroke-width="1.1"/>
<line x1="189.80" y1="177.69" x2="195.20" y2="177.69" stroke="#000" stroke-width="1.1"/>
<line x1="206.10" y1="168.13" x2="206.10" y2="180.07" stroke="#000" stroke-width="1"/>
<line x1="203.40" y1="168.13" x2="208.80" y2="168.13" stroke="#000" stroke-width="1.1"/>
<line x1="203.40" y1="180.07" x2="208.80" y2="180.07" stroke="#000" stroke-width="1.1"/>
<line x1="219.70" y1="166.64" x2="219.70" y2="181.56" stroke="#000" stroke-width="1"/>
<line x1="217.00" y1="166.64" x2="222.40" y2="166.64" stroke="#000" stroke-width="1.1"/>
<line x1="217.00" y1="181.56" x2="222.40" y2="181.56" stroke="#000" stroke-width="1.1"/>
<line x1="165.30" y1="172.47" x2="165.30" y2="179.93" stroke="#000" stroke-width="1"/>
<line x1="162.60" y1="172.47" x2="168.00" y2="172.47" stroke="#000" stroke-width="1.1"/>
<line x1="162.60" y1="179.93" x2="168.00" y2="179.93" stroke="#000" stroke-width="1.1"/>
<line x1="178.90" y1="178.51" x2="178.90" y2="191.40" stroke="#000" stroke-width="1"/>
<line x1="176.20" y1="178.51" x2="181.60" y2="178.51" stroke="#000" stroke-width="1.1"/>
<line x1="176.20" y1="191.40" x2="181.60" y2="191.40" stroke="#000" stroke-width="1.1"/>
<line x1="192.50" y1="187.06" x2="192.50" y2="201.16" stroke="#000" stroke-width="1"/>
<line x1="189.80" y1="187.06" x2="195.20" y2="187.06" stroke="#000" stroke-width="1.1"/>
<line x1="189.80" y1="201.16" x2="195.20" y2="201.16" stroke="#000" stroke-width="1.1"/>
<line x1="206.10" y1="192.69" x2="206.10" y2="204.62" stroke="#000" stroke-width="1"/>
<line x1="203.40" y1="192.69" x2="208.80" y2="192.69" stroke="#000" stroke-width="1.1"/>
<line x1="203.40" y1="204.62" x2="208.80" y2="204.62" stroke="#000" stroke-width="1.1"/>
<line x1="219.70" y1="201.57" x2="219.70" y2="212.29" stroke="#000" stroke-width="1"/>
<line x1="217.00" y1="201.57" x2="222.40" y2="201.57" stroke="#000" stroke-width="1.1"/>
<line x1="217.00" y1="212.29" x2="222.40" y2="212.29" stroke="#000" stroke-width="1.1"/>
<rect x="162.70" y="173.60" width="5.20" height="5.20" fill="#000"/>
<rect x="176.30" y="182.35" width="5.20" height="5.20" fill="#000"/>
<rect x="189.90" y="191.51" width="5.20" height="5.20" fill="#000"/>
<rect x="203.50" y="196.05" width="5.20" height="5.20" fill="#000"/>
<rect x="217.10" y="204.33" width="5.20" height="5.20" fill="#000"/>
<rect x="149.30" y="162.07" width="4.80" height="4.80" fill="#000"/>
<circle cx="151.70" cy="164.47" r="2.85" fill="#000" stroke="#000" stroke-width="0"/>
<circle cx="165.30" cy="166.50" r="2.35" fill="#fff" stroke="#000" stroke-width="1.3"/>
<line x1="164.10" y1="166.50" x2="166.50" y2="166.50" stroke="#444" stroke-width="0.5"/>
<rect x="176.70" y="165.45" width="4.4" height="4.4" fill="#fff" stroke="#000" stroke-width="1.1"/>
<circle cx="178.90" cy="167.65" r="1.2" fill="#fff" stroke="#000" stroke-width="0.7"/>
<circle cx="192.50" cy="171.93" r="2.35" fill="#fff" stroke="#000" stroke-width="1.3"/>
<line x1="191.30" y1="171.93" x2="193.70" y2="171.93" stroke="#444" stroke-width="0.5"/>
<circle cx="206.10" cy="174.10" r="2.35" fill="#fff" stroke="#000" stroke-width="1.3"/>
<line x1="204.90" y1="174.10" x2="207.30" y2="174.10" stroke="#444" stroke-width="0.5"/>
<circle cx="219.70" cy="174.10" r="2.35" fill="#fff" stroke="#000" stroke-width="1.3"/>
<line x1="218.50" y1="174.10" x2="220.90" y2="174.10" stroke="#444" stroke-width="0.5"/>
<text x="192.50" y="184.84" font-size="7.6" font-weight="bold" text-anchor="middle" fill="#4a4a4a" >*</text>
<text x="206.10" y="191.01" font-size="7.6" font-weight="bold" text-anchor="middle" fill="#4a4a4a" >*</text>
<text x="219.70" y="198.51" font-size="7.6" font-weight="bold" text-anchor="middle" fill="#4a4a4a" >*</text>
<text x="178.90" y="203.06" font-size="7.6" font-weight="bold" text-anchor="middle" fill="#4a4a4a" >*</text>
<line x1="147.60" y1="214.10" x2="156.40" y2="214.10" stroke="#000" stroke-width="1.1"/>
<circle cx="152.00" cy="214.10" r="2.3" fill="#fff" stroke="#000" stroke-width="1.3"/>
<line x1="150.80" y1="214.10" x2="153.20" y2="214.10" stroke="#444" stroke-width="0.5"/>
<text x="161.50" y="215.35" font-size="7.0" font-weight="normal" text-anchor="start" fill="#000" textLength="14.0" lengthAdjust="spacingAndGlyphs" >24 hr</text>
<line x1="147.60" y1="223.40" x2="156.40" y2="223.40" stroke="#000" stroke-width="1.1"/>
<rect x="149.70" y="221.10" width="4.60" height="4.60" fill="#000"/>
<text x="161.50" y="224.65" font-size="7.0" font-weight="normal" text-anchor="start" fill="#000" textLength="14.0" lengthAdjust="spacingAndGlyphs" >72 hr</text>
<line x1="265.20" y1="38.60" x2="265.20" y2="112.90" stroke="#000" stroke-width="1.1"/>
<line x1="264.70" y1="112.40" x2="314.30" y2="112.40" stroke="#000" stroke-width="1.3"/>
<line x1="262.40" y1="112.40" x2="265.20" y2="112.40" stroke="#000" stroke-width="0.9"/>
<text x="262.30" y="114.60" font-size="5.6" font-weight="bold" text-anchor="end" fill="#000" textLength="2.75" lengthAdjust="spacingAndGlyphs" >0</text>
<line x1="262.40" y1="94.08" x2="265.20" y2="94.08" stroke="#000" stroke-width="0.9"/>
<text x="262.30" y="96.28" font-size="5.6" font-weight="bold" text-anchor="end" fill="#000" textLength="5.5" lengthAdjust="spacingAndGlyphs" >40</text>
<line x1="262.40" y1="75.75" x2="265.20" y2="75.75" stroke="#000" stroke-width="0.9"/>
<text x="262.30" y="77.95" font-size="5.6" font-weight="bold" text-anchor="end" fill="#000" textLength="5.5" lengthAdjust="spacingAndGlyphs" >80</text>
<line x1="262.40" y1="57.42" x2="265.20" y2="57.42" stroke="#000" stroke-width="0.9"/>
<text x="262.30" y="59.62" font-size="5.6" font-weight="bold" text-anchor="end" fill="#000" textLength="8.25" lengthAdjust="spacingAndGlyphs" >120</text>
<line x1="262.40" y1="39.10" x2="265.20" y2="39.10" stroke="#000" stroke-width="0.9"/>
<text x="262.30" y="41.30" font-size="5.6" font-weight="bold" text-anchor="end" fill="#000" textLength="8.25" lengthAdjust="spacingAndGlyphs" >160</text>
<line x1="271.45" y1="112.40" x2="271.45" y2="115.00" stroke="#000" stroke-width="0.9"/>
<text x="271.45" y="119.60" font-size="5.1" font-weight="bold" text-anchor="middle" fill="#000" >0</text>
<line x1="283.40" y1="112.40" x2="283.40" y2="115.00" stroke="#000" stroke-width="0.9"/>
<text x="283.40" y="119.60" font-size="5.1" font-weight="bold" text-anchor="middle" fill="#000" >3</text>
<line x1="295.50" y1="112.40" x2="295.50" y2="115.00" stroke="#000" stroke-width="0.9"/>
<text x="295.50" y="119.60" font-size="5.1" font-weight="bold" text-anchor="middle" fill="#000" >5</text>
<line x1="307.80" y1="112.40" x2="307.80" y2="115.00" stroke="#000" stroke-width="0.9"/>
<text x="307.80" y="119.60" font-size="5.1" font-weight="bold" text-anchor="middle" fill="#000" >10</text>
<rect x="266.95" y="66.00" width="9.00" height="46.40" fill="#000"/>
<rect x="278.90" y="63.50" width="9.00" height="48.90" fill="#000"/>
<line x1="283.40" y1="61.00" x2="283.40" y2="63.50" stroke="#000" stroke-width="1"/>
<line x1="281.00" y1="61.00" x2="285.80" y2="61.00" stroke="#000" stroke-width="1.2"/>
<rect x="291.00" y="62.80" width="9.00" height="49.60" fill="#000"/>
<line x1="295.50" y1="58.70" x2="295.50" y2="62.80" stroke="#000" stroke-width="1"/>
<line x1="293.10" y1="58.70" x2="297.90" y2="58.70" stroke="#000" stroke-width="1.2"/>
<rect x="303.30" y="67.00" width="9.00" height="45.40" fill="#000"/>
<line x1="307.80" y1="63.70" x2="307.80" y2="67.00" stroke="#000" stroke-width="1"/>
<line x1="305.40" y1="63.70" x2="310.20" y2="63.70" stroke="#000" stroke-width="1.2"/>
<text x="267.20" y="29.30" font-size="6.0" font-weight="bold" text-anchor="start" fill="#000" textLength="44.7" lengthAdjust="spacingAndGlyphs" >NCI-H460 (24 h)</text>
<text x="275.80" y="129.40" font-size="6.0" font-weight="bold" text-anchor="start" fill="#000" textLength="28.0" lengthAdjust="spacingAndGlyphs" >ATO (µM)</text>
<text x="0" y="0" font-size="6.9" font-weight="bold" text-anchor="start" textLength="33.7" lengthAdjust="spacingAndGlyphs" transform="translate(248.40,111.60) rotate(-90)" dominant-baseline="central">LDH activity</text>
<text x="0" y="0" font-size="6.9" font-weight="bold" text-anchor="end" textLength="38.5" lengthAdjust="spacingAndGlyphs" transform="translate(248.40,37.10) rotate(-90)" dominant-baseline="central">(% of control)</text>
<line x1="341.10" y1="38.30" x2="341.10" y2="112.90" stroke="#000" stroke-width="1.1"/>
<line x1="340.60" y1="112.40" x2="389.80" y2="112.40" stroke="#000" stroke-width="1.3"/>
<line x1="338.30" y1="112.40" x2="341.10" y2="112.40" stroke="#000" stroke-width="0.9"/>
<text x="338.20" y="114.60" font-size="5.6" font-weight="bold" text-anchor="end" fill="#000" textLength="2.75" lengthAdjust="spacingAndGlyphs" >0</text>
<line x1="338.30" y1="94.00" x2="341.10" y2="94.00" stroke="#000" stroke-width="0.9"/>
<text x="338.20" y="96.20" font-size="5.6" font-weight="bold" text-anchor="end" fill="#000" textLength="5.5" lengthAdjust="spacingAndGlyphs" >45</text>
<line x1="338.30" y1="75.60" x2="341.10" y2="75.60" stroke="#000" stroke-width="0.9"/>
<text x="338.20" y="77.80" font-size="5.6" font-weight="bold" text-anchor="end" fill="#000" textLength="5.5" lengthAdjust="spacingAndGlyphs" >90</text>
<line x1="338.30" y1="57.20" x2="341.10" y2="57.20" stroke="#000" stroke-width="0.9"/>
<text x="338.20" y="59.40" font-size="5.6" font-weight="bold" text-anchor="end" fill="#000" textLength="8.25" lengthAdjust="spacingAndGlyphs" >135</text>
<line x1="338.30" y1="38.80" x2="341.10" y2="38.80" stroke="#000" stroke-width="0.9"/>
<text x="338.20" y="41.00" font-size="5.6" font-weight="bold" text-anchor="end" fill="#000" textLength="8.25" lengthAdjust="spacingAndGlyphs" >180</text>
<line x1="347.30" y1="112.40" x2="347.30" y2="115.00" stroke="#000" stroke-width="0.9"/>
<text x="347.30" y="119.60" font-size="5.1" font-weight="bold" text-anchor="middle" fill="#000" >0</text>
<line x1="359.40" y1="112.40" x2="359.40" y2="115.00" stroke="#000" stroke-width="0.9"/>
<text x="359.40" y="119.60" font-size="5.1" font-weight="bold" text-anchor="middle" fill="#000" >3</text>
<line x1="371.45" y1="112.40" x2="371.45" y2="115.00" stroke="#000" stroke-width="0.9"/>
<text x="371.45" y="119.60" font-size="5.1" font-weight="bold" text-anchor="middle" fill="#000" >5</text>
<line x1="383.90" y1="112.40" x2="383.90" y2="115.00" stroke="#000" stroke-width="0.9"/>
<text x="383.90" y="119.60" font-size="5.1" font-weight="bold" text-anchor="middle" fill="#000" >10</text>
<rect x="342.90" y="71.00" width="8.80" height="41.40" fill="#000"/>
<rect x="355.00" y="70.30" width="8.80" height="42.10" fill="#000"/>
<line x1="359.40" y1="68.30" x2="359.40" y2="70.30" stroke="#000" stroke-width="1"/>
<line x1="357.00" y1="68.30" x2="361.80" y2="68.30" stroke="#000" stroke-width="1.2"/>
<rect x="367.05" y="64.80" width="8.80" height="47.60" fill="#000"/>
<line x1="371.45" y1="60.70" x2="371.45" y2="64.80" stroke="#000" stroke-width="1"/>
<line x1="369.05" y1="60.70" x2="373.85" y2="60.70" stroke="#000" stroke-width="1.2"/>
<rect x="379.50" y="53.80" width="8.80" height="58.60" fill="#000"/>
<line x1="383.90" y1="45.80" x2="383.90" y2="53.80" stroke="#000" stroke-width="1"/>
<line x1="381.50" y1="45.80" x2="386.30" y2="45.80" stroke="#000" stroke-width="1.2"/>
<text x="342.80" y="29.30" font-size="6.0" font-weight="bold" text-anchor="start" fill="#000" textLength="45.4" lengthAdjust="spacingAndGlyphs" >NCI-H460 (72 h)</text>
<text x="351.20" y="129.40" font-size="6.0" font-weight="bold" text-anchor="start" fill="#000" textLength="28.0" lengthAdjust="spacingAndGlyphs" >ATO (µM)</text>
<text x="0" y="0" font-size="6.9" font-weight="bold" text-anchor="start" textLength="33.7" lengthAdjust="spacingAndGlyphs" transform="translate(324.30,112.60) rotate(-90)" dominant-baseline="central">LDH activity</text>
<text x="0" y="0" font-size="6.9" font-weight="bold" text-anchor="end" textLength="38.5" lengthAdjust="spacingAndGlyphs" transform="translate(324.30,37.40) rotate(-90)" dominant-baseline="central">(% of control)</text>
<line x1="416.70" y1="39.50" x2="416.70" y2="113.80" stroke="#000" stroke-width="1.1"/>
<line x1="416.20" y1="113.30" x2="465.50" y2="113.30" stroke="#000" stroke-width="1.3"/>
<line x1="413.90" y1="113.30" x2="416.70" y2="113.30" stroke="#000" stroke-width="0.9"/>
<text x="413.80" y="115.50" font-size="5.6" font-weight="bold" text-anchor="end" fill="#000" textLength="2.75" lengthAdjust="spacingAndGlyphs" >0</text>
<line x1="413.90" y1="94.97" x2="416.70" y2="94.97" stroke="#000" stroke-width="0.9"/>
<text x="413.80" y="97.17" font-size="5.6" font-weight="bold" text-anchor="end" fill="#000" textLength="5.5" lengthAdjust="spacingAndGlyphs" >40</text>
<line x1="413.90" y1="76.65" x2="416.70" y2="76.65" stroke="#000" stroke-width="0.9"/>
<text x="413.80" y="78.85" font-size="5.6" font-weight="bold" text-anchor="end" fill="#000" textLength="5.5" lengthAdjust="spacingAndGlyphs" >80</text>
<line x1="413.90" y1="58.32" x2="416.70" y2="58.32" stroke="#000" stroke-width="0.9"/>
<text x="413.80" y="60.52" font-size="5.6" font-weight="bold" text-anchor="end" fill="#000" textLength="8.25" lengthAdjust="spacingAndGlyphs" >120</text>
<line x1="413.90" y1="40.00" x2="416.70" y2="40.00" stroke="#000" stroke-width="0.9"/>
<text x="413.80" y="42.20" font-size="5.6" font-weight="bold" text-anchor="end" fill="#000" textLength="8.25" lengthAdjust="spacingAndGlyphs" >160</text>
<line x1="423.30" y1="113.30" x2="423.30" y2="115.90" stroke="#000" stroke-width="0.9"/>
<text x="423.30" y="120.50" font-size="5.1" font-weight="bold" text-anchor="middle" fill="#000" >0</text>
<line x1="435.40" y1="113.30" x2="435.40" y2="115.90" stroke="#000" stroke-width="0.9"/>
<text x="435.40" y="120.50" font-size="5.1" font-weight="bold" text-anchor="middle" fill="#000" >3</text>
<line x1="447.45" y1="113.30" x2="447.45" y2="115.90" stroke="#000" stroke-width="0.9"/>
<text x="447.45" y="120.50" font-size="5.1" font-weight="bold" text-anchor="middle" fill="#000" >5</text>
<line x1="459.65" y1="113.30" x2="459.65" y2="115.90" stroke="#000" stroke-width="0.9"/>
<text x="459.65" y="120.50" font-size="5.1" font-weight="bold" text-anchor="middle" fill="#000" >10</text>
<rect x="418.90" y="67.10" width="8.80" height="46.20" fill="#000"/>
<rect x="431.00" y="64.80" width="8.80" height="48.50" fill="#000"/>
<line x1="435.40" y1="63.70" x2="435.40" y2="64.80" stroke="#000" stroke-width="1"/>
<line x1="433.00" y1="63.70" x2="437.80" y2="63.70" stroke="#000" stroke-width="1.2"/>
<rect x="443.05" y="62.20" width="8.80" height="51.10" fill="#000"/>
<line x1="447.45" y1="61.10" x2="447.45" y2="62.20" stroke="#000" stroke-width="1"/>
<line x1="445.05" y1="61.10" x2="449.85" y2="61.10" stroke="#000" stroke-width="1.2"/>
<rect x="455.25" y="51.80" width="8.80" height="61.50" fill="#000"/>
<line x1="459.65" y1="48.00" x2="459.65" y2="51.80" stroke="#000" stroke-width="1"/>
<line x1="457.25" y1="48.00" x2="462.05" y2="48.00" stroke="#000" stroke-width="1.2"/>
<text x="459.65" y="48.11" font-size="7.6" font-weight="bold" text-anchor="middle" fill="#4a4a4a" >*</text>
<text x="418.80" y="30.30" font-size="6.0" font-weight="bold" text-anchor="start" fill="#000" textLength="45.4" lengthAdjust="spacingAndGlyphs" >NCI-H460 (24 h)</text>
<text x="427.40" y="129.40" font-size="6.0" font-weight="bold" text-anchor="start" fill="#000" textLength="28.0" lengthAdjust="spacingAndGlyphs" >VPA (mM)</text>
<text x="0" y="0" font-size="6.9" font-weight="bold" text-anchor="start" textLength="33.7" lengthAdjust="spacingAndGlyphs" transform="translate(399.60,113.80) rotate(-90)" dominant-baseline="central">LDH activity</text>
<text x="0" y="0" font-size="6.9" font-weight="bold" text-anchor="end" textLength="38.5" lengthAdjust="spacingAndGlyphs" transform="translate(399.60,38.30) rotate(-90)" dominant-baseline="central">(% of control)</text>
<line x1="492.20" y1="39.50" x2="492.20" y2="113.80" stroke="#000" stroke-width="1.1"/>
<line x1="491.70" y1="113.30" x2="541.50" y2="113.30" stroke="#000" stroke-width="1.3"/>
<line x1="489.40" y1="113.30" x2="492.20" y2="113.30" stroke="#000" stroke-width="0.9"/>
<text x="489.30" y="115.50" font-size="5.6" font-weight="bold" text-anchor="end" fill="#000" textLength="2.75" lengthAdjust="spacingAndGlyphs" >0</text>
<line x1="489.40" y1="94.97" x2="492.20" y2="94.97" stroke="#000" stroke-width="0.9"/>
<text x="489.30" y="97.17" font-size="5.6" font-weight="bold" text-anchor="end" fill="#000" textLength="5.5" lengthAdjust="spacingAndGlyphs" >40</text>
<line x1="489.40" y1="76.65" x2="492.20" y2="76.65" stroke="#000" stroke-width="0.9"/>
<text x="489.30" y="78.85" font-size="5.6" font-weight="bold" text-anchor="end" fill="#000" textLength="5.5" lengthAdjust="spacingAndGlyphs" >80</text>
<line x1="489.40" y1="58.32" x2="492.20" y2="58.32" stroke="#000" stroke-width="0.9"/>
<text x="489.30" y="60.52" font-size="5.6" font-weight="bold" text-anchor="end" fill="#000" textLength="8.25" lengthAdjust="spacingAndGlyphs" >120</text>
<line x1="489.40" y1="40.00" x2="492.20" y2="40.00" stroke="#000" stroke-width="0.9"/>
<text x="489.30" y="42.20" font-size="5.6" font-weight="bold" text-anchor="end" fill="#000" textLength="8.25" lengthAdjust="spacingAndGlyphs" >160</text>
<line x1="499.30" y1="113.30" x2="499.30" y2="115.90" stroke="#000" stroke-width="0.9"/>
<text x="499.30" y="120.50" font-size="5.1" font-weight="bold" text-anchor="middle" fill="#000" >0</text>
<line x1="511.35" y1="113.30" x2="511.35" y2="115.90" stroke="#000" stroke-width="0.9"/>
<text x="511.35" y="120.50" font-size="5.1" font-weight="bold" text-anchor="middle" fill="#000" >3</text>
<line x1="523.40" y1="113.30" x2="523.40" y2="115.90" stroke="#000" stroke-width="0.9"/>
<text x="523.40" y="120.50" font-size="5.1" font-weight="bold" text-anchor="middle" fill="#000" >5</text>
<line x1="535.70" y1="113.30" x2="535.70" y2="115.90" stroke="#000" stroke-width="0.9"/>
<text x="535.70" y="120.50" font-size="5.1" font-weight="bold" text-anchor="middle" fill="#000" >10</text>
<rect x="494.85" y="66.90" width="8.90" height="46.40" fill="#000"/>
<rect x="506.90" y="66.90" width="8.90" height="46.40" fill="#000"/>
<line x1="511.35" y1="65.40" x2="511.35" y2="66.90" stroke="#000" stroke-width="1"/>
<line x1="508.95" y1="65.40" x2="513.75" y2="65.40" stroke="#000" stroke-width="1.2"/>
<rect x="518.95" y="70.40" width="8.90" height="42.90" fill="#000"/>
<line x1="523.40" y1="66.10" x2="523.40" y2="70.40" stroke="#000" stroke-width="1"/>
<line x1="521.00" y1="66.10" x2="525.80" y2="66.10" stroke="#000" stroke-width="1.2"/>
<rect x="531.25" y="53.20" width="8.90" height="60.10" fill="#000"/>
<line x1="535.70" y1="44.60" x2="535.70" y2="53.20" stroke="#000" stroke-width="1"/>
<line x1="533.30" y1="44.60" x2="538.10" y2="44.60" stroke="#000" stroke-width="1.2"/>
<text x="535.70" y="44.71" font-size="7.6" font-weight="bold" text-anchor="middle" fill="#4a4a4a" >*</text>
<text x="495.10" y="30.30" font-size="6.0" font-weight="bold" text-anchor="start" fill="#000" textLength="45.0" lengthAdjust="spacingAndGlyphs" >NCI-H460 (72 h)</text>
<text x="502.80" y="129.40" font-size="6.0" font-weight="bold" text-anchor="start" fill="#000" textLength="28.6" lengthAdjust="spacingAndGlyphs" >VPA (mM)</text>
<text x="0" y="0" font-size="6.9" font-weight="bold" text-anchor="start" textLength="33.7" lengthAdjust="spacingAndGlyphs" transform="translate(476.10,113.60) rotate(-90)" dominant-baseline="central">LDH activity</text>
<text x="0" y="0" font-size="6.9" font-weight="bold" text-anchor="end" textLength="38.5" lengthAdjust="spacingAndGlyphs" transform="translate(476.10,38.00) rotate(-90)" dominant-baseline="central">(% of control)</text>
<line x1="265.30" y1="151.30" x2="265.30" y2="226.50" stroke="#000" stroke-width="1.1"/>
<line x1="264.80" y1="226.00" x2="314.30" y2="226.00" stroke="#000" stroke-width="1.3"/>
<line x1="262.50" y1="226.00" x2="265.30" y2="226.00" stroke="#000" stroke-width="0.9"/>
<text x="262.40" y="228.20" font-size="5.6" font-weight="bold" text-anchor="end" fill="#000" textLength="2.75" lengthAdjust="spacingAndGlyphs" >0</text>
<line x1="262.50" y1="207.45" x2="265.30" y2="207.45" stroke="#000" stroke-width="0.9"/>
<text x="262.40" y="209.65" font-size="5.6" font-weight="bold" text-anchor="end" fill="#000" textLength="5.5" lengthAdjust="spacingAndGlyphs" >30</text>
<line x1="262.50" y1="188.90" x2="265.30" y2="188.90" stroke="#000" stroke-width="0.9"/>
<text x="262.40" y="191.10" font-size="5.6" font-weight="bold" text-anchor="end" fill="#000" textLength="5.5" lengthAdjust="spacingAndGlyphs" >60</text>
<line x1="262.50" y1="170.35" x2="265.30" y2="170.35" stroke="#000" stroke-width="0.9"/>
<text x="262.40" y="172.55" font-size="5.6" font-weight="bold" text-anchor="end" fill="#000" textLength="5.5" lengthAdjust="spacingAndGlyphs" >90</text>
<line x1="262.50" y1="151.80" x2="265.30" y2="151.80" stroke="#000" stroke-width="0.9"/>
<text x="262.40" y="154.00" font-size="5.6" font-weight="bold" text-anchor="end" fill="#000" textLength="8.25" lengthAdjust="spacingAndGlyphs" >120</text>
<line x1="271.45" y1="226.00" x2="271.45" y2="228.60" stroke="#000" stroke-width="0.9"/>
<text x="271.45" y="233.20" font-size="5.1" font-weight="bold" text-anchor="middle" fill="#000" >0</text>
<line x1="283.40" y1="226.00" x2="283.40" y2="228.60" stroke="#000" stroke-width="0.9"/>
<text x="283.40" y="233.20" font-size="5.1" font-weight="bold" text-anchor="middle" fill="#000" >3</text>
<line x1="295.50" y1="226.00" x2="295.50" y2="228.60" stroke="#000" stroke-width="0.9"/>
<text x="295.50" y="233.20" font-size="5.1" font-weight="bold" text-anchor="middle" fill="#000" >5</text>
<line x1="307.80" y1="226.00" x2="307.80" y2="228.60" stroke="#000" stroke-width="0.9"/>
<text x="307.80" y="233.20" font-size="5.1" font-weight="bold" text-anchor="middle" fill="#000" >10</text>
<rect x="267.00" y="163.80" width="8.90" height="62.20" fill="#000"/>
<rect x="278.95" y="173.00" width="8.90" height="53.00" fill="#000"/>
<line x1="283.40" y1="172.80" x2="283.40" y2="173.00" stroke="#000" stroke-width="1"/>
<line x1="281.00" y1="172.80" x2="285.80" y2="172.80" stroke="#000" stroke-width="1.2"/>
<rect x="291.05" y="173.80" width="8.90" height="52.20" fill="#000"/>
<line x1="295.50" y1="172.50" x2="295.50" y2="173.80" stroke="#000" stroke-width="1"/>
<line x1="293.10" y1="172.50" x2="297.90" y2="172.50" stroke="#000" stroke-width="1.2"/>
<rect x="303.35" y="171.60" width="8.90" height="54.40" fill="#000"/>
<line x1="307.80" y1="169.90" x2="307.80" y2="171.60" stroke="#000" stroke-width="1"/>
<line x1="305.40" y1="169.90" x2="310.20" y2="169.90" stroke="#000" stroke-width="1.2"/>
<text x="265.40" y="143.40" font-size="6.0" font-weight="bold" text-anchor="start" fill="#000" textLength="47.6" lengthAdjust="spacingAndGlyphs" >NCI-H1299 (24 h)</text>
<text x="275.80" y="242.90" font-size="6.0" font-weight="bold" text-anchor="start" fill="#000" textLength="27.7" lengthAdjust="spacingAndGlyphs" >ATO (µM)</text>
<text x="0" y="0" font-size="6.9" font-weight="bold" text-anchor="start" textLength="33.7" lengthAdjust="spacingAndGlyphs" transform="translate(248.40,224.60) rotate(-90)" dominant-baseline="central">LDH activity</text>
<text x="0" y="0" font-size="6.9" font-weight="bold" text-anchor="end" textLength="38.5" lengthAdjust="spacingAndGlyphs" transform="translate(248.40,151.20) rotate(-90)" dominant-baseline="central">(% of control)</text>
<line x1="340.70" y1="151.30" x2="340.70" y2="226.80" stroke="#000" stroke-width="1.1"/>
<line x1="340.20" y1="226.30" x2="389.80" y2="226.30" stroke="#000" stroke-width="1.3"/>
<line x1="337.90" y1="226.30" x2="340.70" y2="226.30" stroke="#000" stroke-width="0.9"/>
<text x="337.80" y="228.50" font-size="5.6" font-weight="bold" text-anchor="end" fill="#000" textLength="2.75" lengthAdjust="spacingAndGlyphs" >0</text>
<line x1="337.90" y1="207.68" x2="340.70" y2="207.68" stroke="#000" stroke-width="0.9"/>
<text x="337.80" y="209.88" font-size="5.6" font-weight="bold" text-anchor="end" fill="#000" textLength="5.5" lengthAdjust="spacingAndGlyphs" >35</text>
<line x1="337.90" y1="189.05" x2="340.70" y2="189.05" stroke="#000" stroke-width="0.9"/>
<text x="337.80" y="191.25" font-size="5.6" font-weight="bold" text-anchor="end" fill="#000" textLength="5.5" lengthAdjust="spacingAndGlyphs" >70</text>
<line x1="337.90" y1="170.43" x2="340.70" y2="170.43" stroke="#000" stroke-width="0.9"/>
<text x="337.80" y="172.62" font-size="5.6" font-weight="bold" text-anchor="end" fill="#000" textLength="8.25" lengthAdjust="spacingAndGlyphs" >105</text>
<line x1="337.90" y1="151.80" x2="340.70" y2="151.80" stroke="#000" stroke-width="0.9"/>
<text x="337.80" y="154.00" font-size="5.6" font-weight="bold" text-anchor="end" fill="#000" textLength="8.25" lengthAdjust="spacingAndGlyphs" >140</text>
<line x1="347.30" y1="226.30" x2="347.30" y2="228.90" stroke="#000" stroke-width="0.9"/>
<text x="347.30" y="233.50" font-size="5.1" font-weight="bold" text-anchor="middle" fill="#000" >0</text>
<line x1="359.40" y1="226.30" x2="359.40" y2="228.90" stroke="#000" stroke-width="0.9"/>
<text x="359.40" y="233.50" font-size="5.1" font-weight="bold" text-anchor="middle" fill="#000" >3</text>
<line x1="371.45" y1="226.30" x2="371.45" y2="228.90" stroke="#000" stroke-width="0.9"/>
<text x="371.45" y="233.50" font-size="5.1" font-weight="bold" text-anchor="middle" fill="#000" >5</text>
<line x1="383.90" y1="226.30" x2="383.90" y2="228.90" stroke="#000" stroke-width="0.9"/>
<text x="383.90" y="233.50" font-size="5.1" font-weight="bold" text-anchor="middle" fill="#000" >10</text>
<rect x="343.00" y="173.00" width="8.60" height="53.30" fill="#000"/>
<rect x="355.10" y="171.00" width="8.60" height="55.30" fill="#000"/>
<line x1="359.40" y1="168.50" x2="359.40" y2="171.00" stroke="#000" stroke-width="1"/>
<line x1="357.00" y1="168.50" x2="361.80" y2="168.50" stroke="#000" stroke-width="1.2"/>
<rect x="367.15" y="168.00" width="8.60" height="58.30" fill="#000"/>
<line x1="371.45" y1="164.10" x2="371.45" y2="168.00" stroke="#000" stroke-width="1"/>
<line x1="369.05" y1="164.10" x2="373.85" y2="164.10" stroke="#000" stroke-width="1.2"/>
<rect x="379.60" y="165.80" width="8.60" height="60.50" fill="#000"/>
<line x1="383.90" y1="160.10" x2="383.90" y2="165.80" stroke="#000" stroke-width="1"/>
<line x1="381.50" y1="160.10" x2="386.30" y2="160.10" stroke="#000" stroke-width="1.2"/>
<text x="341.40" y="143.40" font-size="6.0" font-weight="bold" text-anchor="start" fill="#000" textLength="48.2" lengthAdjust="spacingAndGlyphs" >NCI-H1299 (72 h)</text>
<text x="351.90" y="242.90" font-size="6.0" font-weight="bold" text-anchor="start" fill="#000" textLength="28.2" lengthAdjust="spacingAndGlyphs" >ATO (µM)</text>
<text x="0" y="0" font-size="6.9" font-weight="bold" text-anchor="start" textLength="33.7" lengthAdjust="spacingAndGlyphs" transform="translate(324.30,224.80) rotate(-90)" dominant-baseline="central">LDH activity</text>
<text x="0" y="0" font-size="6.9" font-weight="bold" text-anchor="end" textLength="38.5" lengthAdjust="spacingAndGlyphs" transform="translate(324.30,151.40) rotate(-90)" dominant-baseline="central">(% of control)</text>
<line x1="416.70" y1="152.80" x2="416.70" y2="227.60" stroke="#000" stroke-width="1.1"/>
<line x1="416.20" y1="227.10" x2="465.50" y2="227.10" stroke="#000" stroke-width="1.3"/>
<line x1="413.90" y1="227.10" x2="416.70" y2="227.10" stroke="#000" stroke-width="0.9"/>
<text x="413.80" y="229.30" font-size="5.6" font-weight="bold" text-anchor="end" fill="#000" textLength="2.75" lengthAdjust="spacingAndGlyphs" >0</text>
<line x1="413.90" y1="208.65" x2="416.70" y2="208.65" stroke="#000" stroke-width="0.9"/>
<text x="413.80" y="210.85" font-size="5.6" font-weight="bold" text-anchor="end" fill="#000" textLength="5.5" lengthAdjust="spacingAndGlyphs" >30</text>
<line x1="413.90" y1="190.20" x2="416.70" y2="190.20" stroke="#000" stroke-width="0.9"/>
<text x="413.80" y="192.40" font-size="5.6" font-weight="bold" text-anchor="end" fill="#000" textLength="5.5" lengthAdjust="spacingAndGlyphs" >60</text>
<line x1="413.90" y1="171.75" x2="416.70" y2="171.75" stroke="#000" stroke-width="0.9"/>
<text x="413.80" y="173.95" font-size="5.6" font-weight="bold" text-anchor="end" fill="#000" textLength="5.5" lengthAdjust="spacingAndGlyphs" >90</text>
<line x1="413.90" y1="153.30" x2="416.70" y2="153.30" stroke="#000" stroke-width="0.9"/>
<text x="413.80" y="155.50" font-size="5.6" font-weight="bold" text-anchor="end" fill="#000" textLength="8.25" lengthAdjust="spacingAndGlyphs" >120</text>
<line x1="423.30" y1="227.10" x2="423.30" y2="229.70" stroke="#000" stroke-width="0.9"/>
<text x="423.30" y="234.30" font-size="5.1" font-weight="bold" text-anchor="middle" fill="#000" >0</text>
<line x1="435.40" y1="227.10" x2="435.40" y2="229.70" stroke="#000" stroke-width="0.9"/>
<text x="435.40" y="234.30" font-size="5.1" font-weight="bold" text-anchor="middle" fill="#000" >3</text>
<line x1="447.45" y1="227.10" x2="447.45" y2="229.70" stroke="#000" stroke-width="0.9"/>
<text x="447.45" y="234.30" font-size="5.1" font-weight="bold" text-anchor="middle" fill="#000" >5</text>
<line x1="459.65" y1="227.10" x2="459.65" y2="229.70" stroke="#000" stroke-width="0.9"/>
<text x="459.65" y="234.30" font-size="5.1" font-weight="bold" text-anchor="middle" fill="#000" >10</text>
<rect x="419.00" y="165.40" width="8.60" height="61.70" fill="#000"/>
<rect x="431.10" y="163.80" width="8.60" height="63.30" fill="#000"/>
<line x1="435.40" y1="159.80" x2="435.40" y2="163.80" stroke="#000" stroke-width="1"/>
<line x1="433.00" y1="159.80" x2="437.80" y2="159.80" stroke="#000" stroke-width="1.2"/>
<rect x="443.15" y="167.10" width="8.60" height="60.00" fill="#000"/>
<line x1="447.45" y1="163.50" x2="447.45" y2="167.10" stroke="#000" stroke-width="1"/>
<line x1="445.05" y1="163.50" x2="449.85" y2="163.50" stroke="#000" stroke-width="1.2"/>
<rect x="455.35" y="166.00" width="8.60" height="61.10" fill="#000"/>
<line x1="459.65" y1="162.80" x2="459.65" y2="166.00" stroke="#000" stroke-width="1"/>
<line x1="457.25" y1="162.80" x2="462.05" y2="162.80" stroke="#000" stroke-width="1.2"/>
<text x="417.60" y="145.10" font-size="6.0" font-weight="bold" text-anchor="start" fill="#000" textLength="48.2" lengthAdjust="spacingAndGlyphs" >NCI-H1299 (24 h)</text>
<text x="427.40" y="242.90" font-size="6.0" font-weight="bold" text-anchor="start" fill="#000" textLength="28.0" lengthAdjust="spacingAndGlyphs" >VPA (mM)</text>
<text x="0" y="0" font-size="6.9" font-weight="bold" text-anchor="start" textLength="33.7" lengthAdjust="spacingAndGlyphs" transform="translate(400.10,226.40) rotate(-90)" dominant-baseline="central">LDH activity</text>
<text x="0" y="0" font-size="6.9" font-weight="bold" text-anchor="end" textLength="38.5" lengthAdjust="spacingAndGlyphs" transform="translate(400.10,153.00) rotate(-90)" dominant-baseline="central">(% of control)</text>
<line x1="492.40" y1="152.80" x2="492.40" y2="227.60" stroke="#000" stroke-width="1.1"/>
<line x1="491.90" y1="227.10" x2="541.50" y2="227.10" stroke="#000" stroke-width="1.3"/>
<line x1="489.60" y1="227.10" x2="492.40" y2="227.10" stroke="#000" stroke-width="0.9"/>
<text x="489.50" y="229.30" font-size="5.6" font-weight="bold" text-anchor="end" fill="#000" textLength="2.75" lengthAdjust="spacingAndGlyphs" >0</text>
<line x1="489.60" y1="208.65" x2="492.40" y2="208.65" stroke="#000" stroke-width="0.9"/>
<text x="489.50" y="210.85" font-size="5.6" font-weight="bold" text-anchor="end" fill="#000" textLength="5.5" lengthAdjust="spacingAndGlyphs" >30</text>
<line x1="489.60" y1="190.20" x2="492.40" y2="190.20" stroke="#000" stroke-width="0.9"/>
<text x="489.50" y="192.40" font-size="5.6" font-weight="bold" text-anchor="end" fill="#000" textLength="5.5" lengthAdjust="spacingAndGlyphs" >60</text>
<line x1="489.60" y1="171.75" x2="492.40" y2="171.75" stroke="#000" stroke-width="0.9"/>
<text x="489.50" y="173.95" font-size="5.6" font-weight="bold" text-anchor="end" fill="#000" textLength="5.5" lengthAdjust="spacingAndGlyphs" >90</text>
<line x1="489.60" y1="153.30" x2="492.40" y2="153.30" stroke="#000" stroke-width="0.9"/>
<text x="489.50" y="155.50" font-size="5.6" font-weight="bold" text-anchor="end" fill="#000" textLength="8.25" lengthAdjust="spacingAndGlyphs" >120</text>
<line x1="499.30" y1="227.10" x2="499.30" y2="229.70" stroke="#000" stroke-width="0.9"/>
<text x="499.30" y="234.30" font-size="5.1" font-weight="bold" text-anchor="middle" fill="#000" >0</text>
<line x1="511.35" y1="227.10" x2="511.35" y2="229.70" stroke="#000" stroke-width="0.9"/>
<text x="511.35" y="234.30" font-size="5.1" font-weight="bold" text-anchor="middle" fill="#000" >3</text>
<line x1="523.40" y1="227.10" x2="523.40" y2="229.70" stroke="#000" stroke-width="0.9"/>
<text x="523.40" y="234.30" font-size="5.1" font-weight="bold" text-anchor="middle" fill="#000" >5</text>
<line x1="535.70" y1="227.10" x2="535.70" y2="229.70" stroke="#000" stroke-width="0.9"/>
<text x="535.70" y="234.30" font-size="5.1" font-weight="bold" text-anchor="middle" fill="#000" >10</text>
<rect x="494.95" y="164.40" width="8.70" height="62.70" fill="#000"/>
<rect x="507.00" y="168.00" width="8.70" height="59.10" fill="#000"/>
<rect x="519.05" y="170.30" width="8.70" height="56.80" fill="#000"/>
<line x1="523.40" y1="168.80" x2="523.40" y2="170.30" stroke="#000" stroke-width="1"/>
<line x1="521.00" y1="168.80" x2="525.80" y2="168.80" stroke="#000" stroke-width="1.2"/>
<rect x="531.35" y="170.70" width="8.70" height="56.40" fill="#000"/>
<line x1="535.70" y1="168.80" x2="535.70" y2="170.70" stroke="#000" stroke-width="1"/>
<line x1="533.30" y1="168.80" x2="538.10" y2="168.80" stroke="#000" stroke-width="1.2"/>
<text x="493.30" y="145.50" font-size="6.0" font-weight="bold" text-anchor="start" fill="#000" textLength="48.1" lengthAdjust="spacingAndGlyphs" >NCI-H1299 (72 h)</text>
<text x="502.90" y="242.90" font-size="6.0" font-weight="bold" text-anchor="start" fill="#000" textLength="28.6" lengthAdjust="spacingAndGlyphs" >VPA (mM)</text>
<text x="0" y="0" font-size="6.9" font-weight="bold" text-anchor="start" textLength="33.7" lengthAdjust="spacingAndGlyphs" transform="translate(476.10,226.40) rotate(-90)" dominant-baseline="central">LDH activity</text>
<text x="0" y="0" font-size="6.9" font-weight="bold" text-anchor="end" textLength="38.5" lengthAdjust="spacingAndGlyphs" transform="translate(476.10,153.00) rotate(-90)" dominant-baseline="central">(% of control)</text>
</svg>
</body></html>
